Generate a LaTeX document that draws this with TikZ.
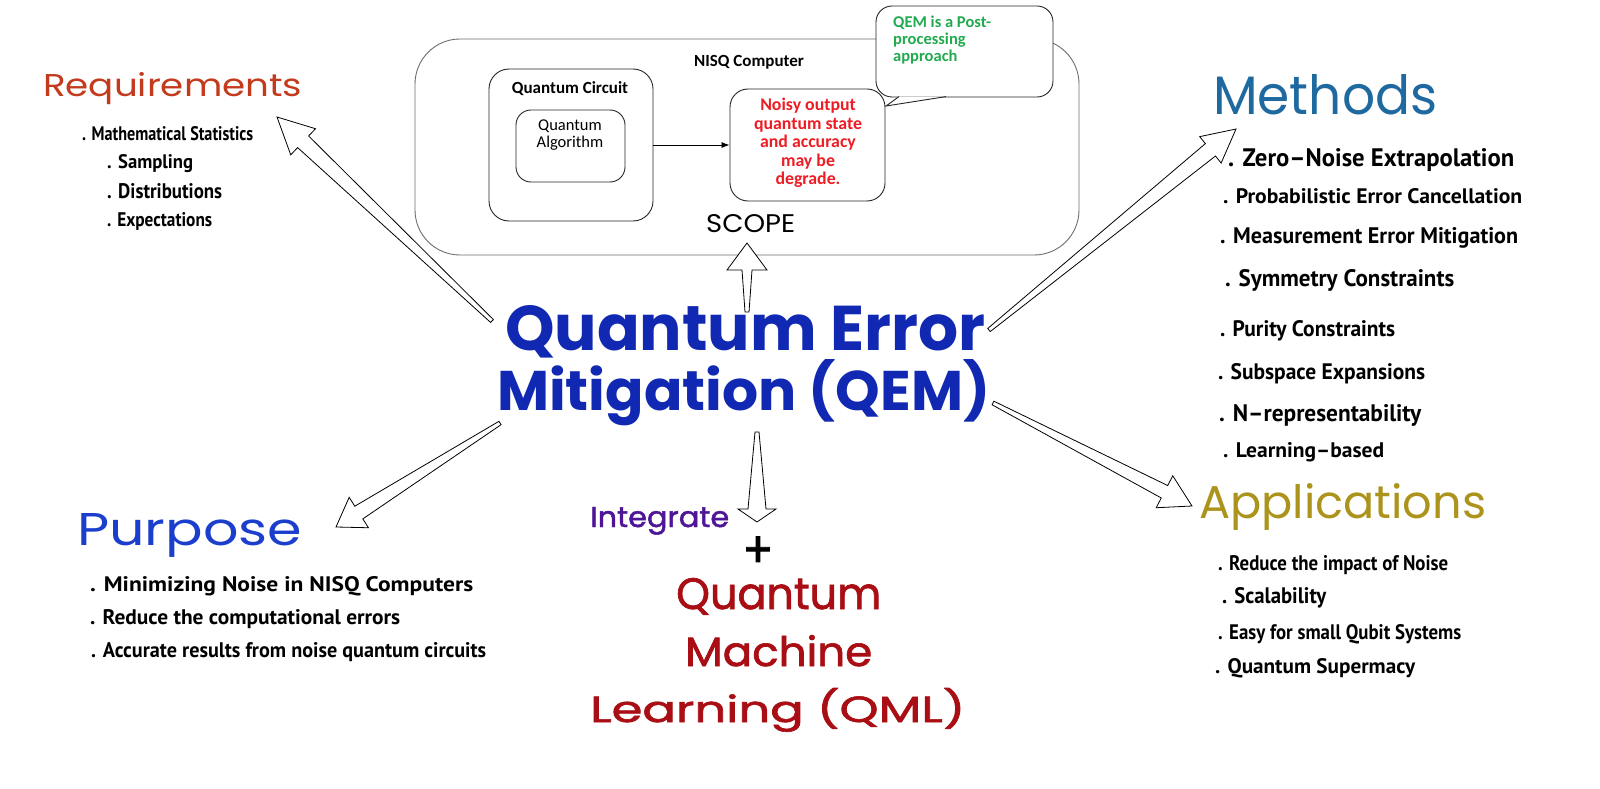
\documentclass[tikz,border=0pt]{standalone}
\usepackage{fontspec}
\setmainfont{Carlito}
\newfontfamily\handfont{Poppins}
\newfontfamily\handmed[FakeBold=1.6]{Poppins}
\newfontfamily\bulfont{PT Sans}
\usetikzlibrary{calc,arrows.meta}
\definecolor{reqc}{RGB}{196,58,28}
\definecolor{methc}{RGB}{30,105,160}
\definecolor{appc}{RGB}{172,148,28}
\definecolor{purpc}{RGB}{28,62,205}
\definecolor{qemc}{RGB}{16,40,178}
\definecolor{intc}{RGB}{78,22,150}
\definecolor{qmlc}{RGB}{168,14,20}
\definecolor{noisec}{RGB}{238,28,36}
\definecolor{notec}{RGB}{34,170,80}
\definecolor{boxgray}{RGB}{110,110,110}
\newcommand\fitbox[3]{\resizebox{#1pt}{#2pt}{#3}}
% tapered hollow arrow: tail, tip, head length, head half width, shaft half width at head
\newcommand\taperarrow[5]{%
  \path ($(#2)!#3!(#1)$) coordinate (tb);
  \draw[taperline] ($(#1)!2pt!90:(#2)$) -- ($(tb)!#5!-90:(#1)$) -- ($(tb)!#4!-90:(#1)$) -- (#2)
     -- ($(tb)!#4!90:(#1)$) -- ($(tb)!#5!90:(#1)$) -- ($(#1)!2pt!-90:(#2)$) -- cycle;}
\begin{document}
\begin{tikzpicture}[x=1pt,y=-1pt,
  taperline/.style={draw=black, line width=0.8pt, fill=white, line join=miter},
  outerbox/.style={draw=boxgray, line width=0.9pt, rounded corners=45pt, inner sep=0pt},
  innerbox/.style={draw=black!85, line width=0.9pt, inner sep=0pt},
  boxlbl/.style={font=\bfseries\fontsize{17}{20}\selectfont, inner sep=0pt},
  hd/.style={anchor=base west, inner sep=0pt, font=\handfont},
  bul/.style={anchor=base west, inner sep=0pt, font=\bulfont\bfseries},
  thinline/.style={draw=black!85, line width=0.9pt}]
\fill[white] (0,0) rectangle (1600,789);
\useasboundingbox (0,0) rectangle (1600,789);

% ---------- NISQ computer block ----------
\node[outerbox, minimum width=664pt, minimum height=216pt] (nisq) at (747,147) {};
\node[boxlbl] (nisqlbl) at (749,62) {NISQ Computer};
\node[innerbox, rounded corners=20pt, minimum width=164pt, minimum height=152pt] (circuit) at (571,145) {};
\node[boxlbl] (circlbl) at (570,89) {Quantum Circuit};
\node[innerbox, rounded corners=15pt, minimum width=109pt, minimum height=72pt] (algo) at (570.5,146) {};
\node[font=\fontsize{16.5}{17.5}\selectfont, align=center, inner sep=0pt] (algolbl) at (570,135) {Quantum\\Algorithm};
\node[innerbox, rounded corners=18pt, minimum width=155pt, minimum height=112pt] (noisy) at (807.5,145) {};
\node[font=\bfseries\fontsize{17.8}{18.5}\selectfont, text=noisec, align=center, inner sep=0pt] (noisylbl) at (808,143)
  {Noisy output\\quantum state\\and accuracy\\may be\\degrade.};
\draw[-{Latex[length=8pt,width=6pt]}, line width=0.8pt] (circuit.east) -- (circuit.east -| noisy.west);
\node[hd, anchor=base west] (scope) at (706,232) {\fitbox{89}{18}{SCOPE}};

% callout
\node[innerbox, fill=white, rounded corners=16pt, minimum width=177pt, minimum height=91pt] (note) at (964.5,51.5) {};
\coordinate (noteA) at (899,96.6);
\coordinate (noteTip) at (886,106);
\coordinate (noteB) at (946,96.6);
\fill[white] (noteA) -- (noteTip) -- (noteB) -- cycle;
\draw[thinline] (noteA) -- (noteTip) -- (noteB);
\node[font=\bfseries\fontsize{16.5}{17}\selectfont, text=notec, align=left, anchor=west, inner sep=0pt] (notelbl) at (893,40)
  {QEM is a Post-\\processing\\approach};

% ---------- central title ----------
\node[hd, font=\handfont\bfseries, text=qemc] (qem1) at (505,350) {\fitbox{480}{45}{Quantum Error}};
\node[hd, font=\handfont\bfseries, text=qemc] (qem2) at (497,410) {\fitbox{493}{51}{Mitigation (QEM)}};

% ---------- Requirements ----------
\node[hd, text=reqc] (req) at (43,97) {\fitbox{259}{24}{Requirements}};
\node[bul] (req1) at (82,141) {\fitbox{171}{14}{. Mathematical Statistics}};
\node[bul] (req2) at (107,168) {\fitbox{86}{14}{. Sampling}};
\node[bul] (req3) at (107,198) {\fitbox{115}{15}{. Distributions}};
\node[bul] (req4) at (107,226) {\fitbox{105}{14}{. Expectations}};

% ---------- Methods ----------
\node[hd, text=methc] (meth) at (1213,114) {\fitbox{224}{40}{Methods}};
\node[bul] (m1) at (1228,166) {\fitbox{286}{18}{. Zero–Noise Extrapolation}};
\node[bul] (m2) at (1223,203) {\fitbox{299}{15}{. Probabilistic Error Cancellation}};
\node[bul] (m3) at (1220,243) {\fitbox{298}{16}{. Measurement Error Mitigation}};
\node[bul] (m4) at (1225,286) {\fitbox{229}{17}{. Symmetry Constraints}};
\node[bul] (m5) at (1220,336) {\fitbox{175}{16}{. Purity Constraints}};
\node[bul] (m6) at (1218,379) {\fitbox{207}{16}{. Subspace Expansions}};
\node[bul] (m7) at (1219,421) {\fitbox{202}{17}{. N–representability}};
\node[bul] (m8) at (1223,457) {\fitbox{161}{15}{. Learning–based}};

% ---------- Applications ----------
\node[hd, text=appc] (app) at (1199,518) {\fitbox{287}{35}{Applications}};
\node[bul] (a1) at (1218,570) {\fitbox{230}{15}{. Reduce the impact of Noise}};
\node[bul] (a2) at (1222,603) {\fitbox{104}{16}{. Scalability}};
\node[bul] (a3) at (1218,639) {\fitbox{243}{15}{. Easy for small Qubit Systems}};
\node[bul] (a4) at (1215,673) {\fitbox{200}{15}{. Quantum Supermacy}};

% ---------- Purpose ----------
\node[hd, text=purpc] (purp) at (77,545) {\fitbox{225}{32}{Purpose}};
\node[bul] (p1) at (90,591) {\fitbox{383}{15}{. Minimizing Noise in NISQ Computers}};
\node[bul] (p2) at (90,624) {\fitbox{310}{15}{. Reduce the computational errors}};
\node[bul] (p3) at (91,657) {\fitbox{395}{15}{. Accurate results from noise quantum circuits}};

% ---------- QML ----------
\node[hd, font=\handmed, text=intc] (integ) at (590,527) {\fitbox{139}{20}{Integrate}};
\node[inner sep=0pt, font=\handmed] (plus) at (758,552) {\resizebox*{31pt}{31pt}{+}};
\node[hd, font=\handmed, text=qmlc] (qml1) at (676,609) {\fitbox{205}{31}{Quantum}};
\node[hd, font=\handmed, text=qmlc] (qml2) at (685,666) {\fitbox{187}{31}{Machine}};
\node[hd, font=\handmed, text=qmlc] (qml3) at (590,722) {\fitbox{375}{34}{Learning (QML)}};

% ---------- tapered arrows ----------
\coordinate (reqTail) at (492,321);  \coordinate (reqTip) at (277,117);
\coordinate (methTail) at (989,330); \coordinate (methTip) at (1236,129);
\coordinate (purpTail) at (500,423); \coordinate (purpTip) at (336,527);
\coordinate (qmlTail) at (757,432);  \coordinate (qmlTip) at (757,522);
\coordinate (appTail) at (993,403);  \coordinate (appTip) at (1192,506);
\coordinate (scopeTail) at (747,312); \coordinate (scopeTip) at (747,243);
\taperarrow{reqTail}{reqTip}{36pt}{18pt}{8pt}
\taperarrow{methTail}{methTip}{33pt}{17pt}{8pt}
\taperarrow{purpTail}{purpTip}{27pt}{18pt}{7.5pt}
\taperarrow{qmlTail}{qmlTip}{13pt}{19pt}{9pt}
\taperarrow{appTail}{appTip}{31pt}{18pt}{7pt}
\taperarrow{scopeTail}{scopeTip}{27pt}{20pt}{5pt}
\end{tikzpicture}
\end{document}
